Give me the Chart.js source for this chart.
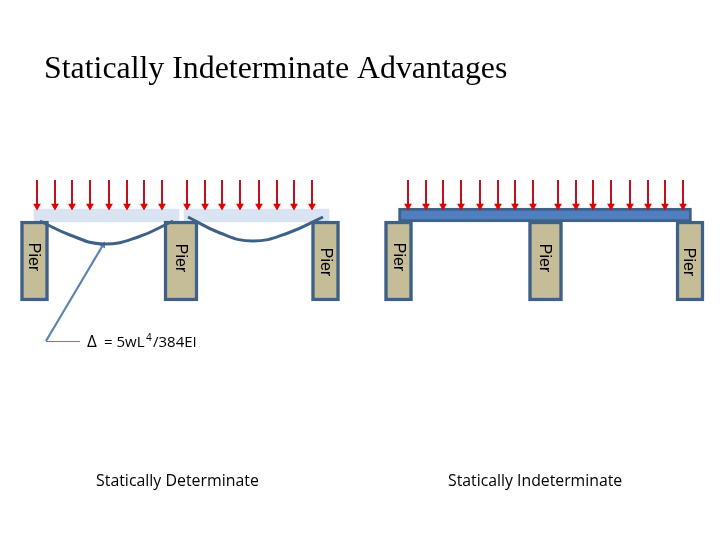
<!DOCTYPE html>
<html>
<head>
<meta charset="utf-8">
<script src="https://cdn.jsdelivr.net/npm/chart.js@4"></script>
<style>
html, body { margin: 0; padding: 0; background: #fff; }
canvas { display: block; }
</style>
</head>
<body>
<canvas id="chart" width="720" height="540"></canvas>
<script>
const narrowPiers = [34.5, 325.5, 398.5, 690];
const widePiers = [181, 545.5];
const pierTop = 221;
const pierBottom = 301;

const lightBeams = [106.5, 256.5];
const lightBeamTop = 209;
const lightBeamBottom = 222;
const solidBeam = [545];
const solidBeamTop = 208;
const solidBeamBottom = 222;

const arrowXs = [37, 55, 72, 90, 109, 127, 144, 162, 187, 205, 222, 240, 259, 277, 294, 312,
    408, 426, 443, 461, 480, 498, 515, 533, 558, 576, 593, 611, 630, 648, 665, 683];
const arrowTop = 180;
const arrowTip = 206;

const leftCurveX = [40, 70, 103, 138, 173];
const leftCurveY = [221, 235, 244, 237, 221];
const rightCurveX = [188, 220, 253, 288, 323];
const rightCurveY = [217, 233, 241, 233, 217];

const leaderX = [80, 46];
const leaderY = [341.5, 341.5];
const pointerX = [46, 103];
const pointerY = [341, 245];

const pierLabelX = [33, 180, 325, 398, 544, 688];
const pierLabelY = [257, 258, 262, 257, 258, 262];

const toPoints = (xs, ys) => xs.map((x, i) => ({ x: x, y: ys[i] }));
const shafts = [];
arrowXs.forEach(x => {
    shafts.push({ x: x, y: arrowTop }, { x: x, y: arrowTip }, { x: x, y: null });
});

function barSet(centers, top, bottom, thickness, fill, border, width, order) {
    return {
        type: 'bar',
        data: centers.map(x => ({ x: x, y: [top, bottom] })),
        backgroundColor: fill,
        borderColor: border,
        borderWidth: width,
        borderSkipped: false,
        barThickness: thickness,
        grouped: false,
        order: order
    };
}

function curveSet(xs, ys) {
    return {
        type: 'line',
        data: toPoints(xs, ys),
        borderColor: '#3f6188',
        borderWidth: 3,
        tension: 0.45,
        pointRadius: 0,
        order: 1
    };
}

function pointerSet(xs, ys, width) {
    return {
        type: 'line',
        data: toPoints(xs, ys),
        borderColor: '#5b82ad',
        borderWidth: width,
        pointRadius: 0,
        order: 3
    };
}

const textLabels = {
    id: 'textLabels',
    afterDraw(chart) {
        const ctx = chart.ctx;
        const sx = chart.scales.x;
        const sy = chart.scales.y;
        const put = (text, x, y, font) => {
            ctx.font = font;
            ctx.fillText(text, sx.getPixelForValue(x), sy.getPixelForValue(y));
        };
        ctx.save();
        ctx.fillStyle = '#000';
        ctx.textBaseline = 'alphabetic';
        put('Statically Indeterminate Advantages', 44, 78, '31.85px "Liberation Serif"');
        put('Statically Determinate', 96, 486, '15.9px "Open Sans"');
        put('Statically Indeterminate', 448, 486, '15.8px "Open Sans"');
        put('Δ', 87, 347, '17px "Open Sans"');
        put('= 5wL', 104, 347, '15px "Open Sans"');
        put('4', 146, 341, '10px "Open Sans"');
        put('/384EI', 153, 347, '15px "Open Sans"');
        pierLabelX.forEach((x, i) => {
            ctx.save();
            ctx.translate(sx.getPixelForValue(x), sy.getPixelForValue(pierLabelY[i]));
            ctx.rotate(Math.PI / 2);
            ctx.font = '16px "Liberation Sans"';
            ctx.textAlign = 'center';
            ctx.textBaseline = 'middle';
            ctx.fillText('Pier', 0, 0);
            ctx.restore();
        });
        ctx.restore();
    }
};

new Chart(document.getElementById('chart').getContext('2d'), {
    type: 'bar',
    data: {
        datasets: [
            barSet(lightBeams, lightBeamTop, lightBeamBottom, 145, '#d9e3f1', '#d9e3f1', 0, 5),
            barSet(solidBeam, solidBeamTop, solidBeamBottom, 293, '#4f7fbe', '#3f6188', 3, 5),
            barSet(narrowPiers, pierTop, pierBottom, 28, '#c4bd97', '#3f6188', 3.5, 4),
            barSet(widePiers, pierTop, pierBottom, 34, '#c4bd97', '#3f6188', 3.5, 4),
            curveSet(leftCurveX, leftCurveY),
            curveSet(rightCurveX, rightCurveY),
            {
                type: 'line',
                data: shafts,
                borderColor: '#c4101c',
                borderWidth: 2,
                pointRadius: 0,
                spanGaps: false,
                order: 2
            },
            {
                type: 'line',
                data: arrowXs.map(x => ({ x: x, y: arrowTip })),
                showLine: false,
                pointStyle: 'triangle',
                rotation: 180,
                pointRadius: 4.5,
                pointBackgroundColor: '#e00000',
                pointBorderColor: '#e00000',
                pointBorderWidth: 0,
                order: 1
            },
            pointerSet(leaderX, leaderY, 1),
            pointerSet(pointerX, pointerY, 2.2),
            {
                type: 'line',
                data: [{ x: pointerX[1], y: pointerY[1] }],
                showLine: false,
                pointStyle: 'triangle',
                rotation: 30,
                pointRadius: 4,
                pointBackgroundColor: '#5b82ad',
                pointBorderWidth: 0,
                order: 3
            }
        ]
    },
    options: {
        responsive: false,
        animation: false,
        layout: { padding: 0, autoPadding: false },
        plugins: { legend: { display: false }, tooltip: { enabled: false } },
        scales: {
            x: { type: 'linear', min: 0, max: 720, offset: false, display: false },
            y: { type: 'linear', min: 0, max: 540, reverse: true, display: false }
        }
    },
    plugins: [textLabels]
});
</script>
</body>
</html>
